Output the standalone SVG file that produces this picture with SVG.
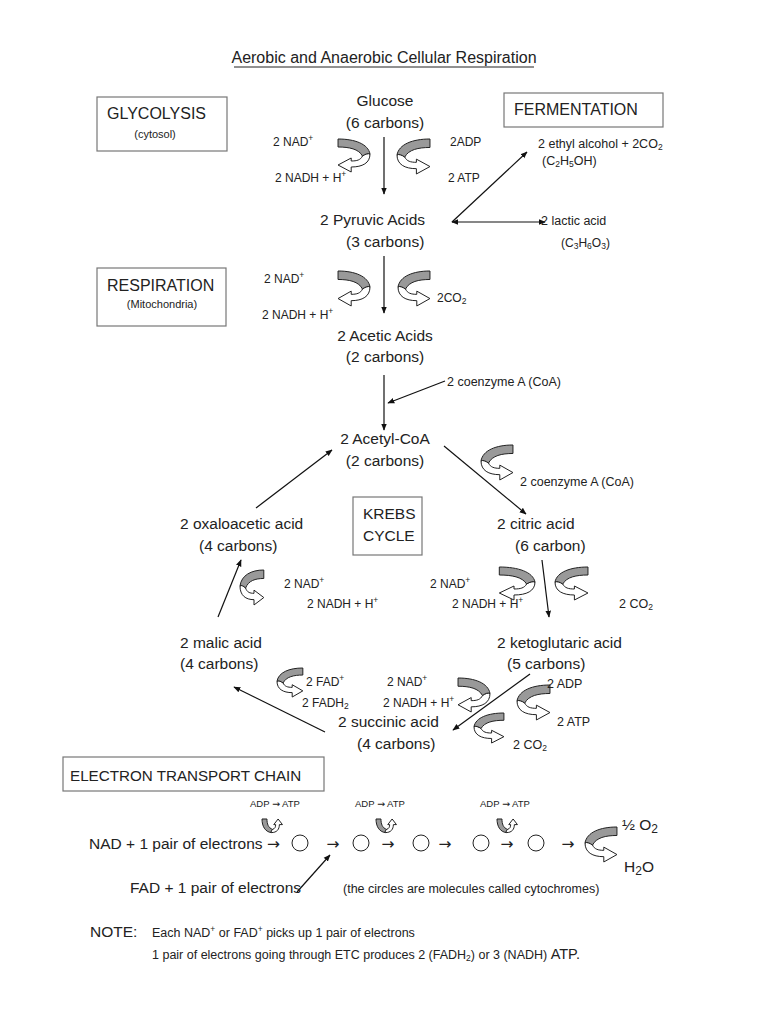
<svg xmlns="http://www.w3.org/2000/svg" xmlns:xlink="http://www.w3.org/1999/xlink" width="768" height="1024" viewBox="0 0 768 1024">
<style>
text{font-family:"Liberation Sans","DejaVu Sans",sans-serif;fill:#222}
.h{font-size:16px}
.ht{font-size:16px}
.m{font-size:15.5px}
.s{font-size:12px}
.xs{font-size:12.5px}
.xxs{font-size:9.5px}
.sp{font-size:8.5px}
.ar{font-family:"DejaVu Sans",sans-serif}
.box{fill:none;stroke:#777;stroke-width:1.2}
.ln{stroke:#111;stroke-width:1.2;fill:none}
.g{fill:#999;stroke:#222;stroke-width:1}
.w{fill:#fff;stroke:#222;stroke-width:1}
.cy{fill:#fff;stroke:#222;stroke-width:1}
</style>
<defs>
<marker id="ah" viewBox="0 0 10 10" refX="9" refY="5" markerWidth="7" markerHeight="7" orient="auto-start-reverse" markerUnits="userSpaceOnUse">
<path d="M0,1 L10,5 L0,9 Z" fill="#111"/>
</marker>
<g id="cr">
<path class="w" d="M0,15 C0,24 8,28 20,28 L20,33 L34,26 L20,19 L20,22 C14,22 10,21 8,17 C5,15 2,14 0,15 Z" vector-effect="non-scaling-stroke"/>
<path class="g" d="M34,0 L34,8 C22,8 12,10 8,17 C5,15 2,14 0,15 C2,5 16,0 34,0 Z" vector-effect="non-scaling-stroke"/>
</g>
</defs>
<rect width="768" height="1024" fill="#fff"/>

<g id="title">
<text class="ht" x="384" y="63" text-anchor="middle">Aerobic and Anaerobic Cellular Respiration</text>
<line x1="234" y1="67" x2="534" y2="67" stroke="#222" stroke-width="1"/>
</g>

<g id="glycolysis-box">
<rect class="box" x="97" y="97" width="130" height="54"/>
<text class="h" x="107" y="119">GLYCOLYSIS</text>
<text class="xs" x="155" y="138" text-anchor="middle" style="font-size:11px">(cytosol)</text>
</g>
<g id="respiration-box">
<rect class="box" x="97" y="268" width="129" height="58"/>
<text class="h" x="107" y="291">RESPIRATION</text>
<text class="xs" x="162" y="308" text-anchor="middle" style="font-size:11px">(Mitochondria)</text>
</g>
<g id="fermentation-box">
<rect class="box" x="504" y="93" width="159" height="34"/>
<text class="h" x="514" y="115">FERMENTATION</text>
</g>
<g id="krebs-box">
<rect class="box" x="353" y="497" width="69" height="58"/>
<text class="m" x="363" y="519">KREBS</text>
<text class="m" x="363" y="541">CYCLE</text>
</g>
<g id="etc-box">
<rect class="box" x="63" y="757" width="261" height="34"/>
<text x="70" y="781" style="font-size:15.2px">ELECTRON TRANSPORT CHAIN</text>
</g>

<g id="connectors">
<line class="ln" x1="384" y1="137" x2="384" y2="194" marker-end="url(#ah)"/>
<line class="ln" x1="384" y1="256" x2="384" y2="313" marker-end="url(#ah)"/>
<line class="ln" x1="384" y1="375" x2="384" y2="430" marker-end="url(#ah)"/>
<line class="ln" x1="445" y1="381" x2="388" y2="403" marker-end="url(#ah)"/>
<line class="ln" x1="452" y1="222" x2="527" y2="152" marker-end="url(#ah)"/>
<line class="ln" x1="452" y1="222" x2="545" y2="222" marker-start="url(#ah)" marker-end="url(#ah)"/>
<line class="ln" x1="444" y1="446" x2="526" y2="514" marker-end="url(#ah)"/>
<line class="ln" x1="256" y1="508" x2="332" y2="450" marker-end="url(#ah)"/>
<line class="ln" x1="542" y1="560" x2="549" y2="617" marker-end="url(#ah)"/>
<line class="ln" x1="218" y1="617" x2="241" y2="560" marker-end="url(#ah)"/>
<line class="ln" x1="530" y1="674" x2="453" y2="730" marker-end="url(#ah)"/>
<line class="ln" x1="325" y1="732" x2="234" y2="687" marker-end="url(#ah)"/>
<line class="ln" x1="297" y1="892" x2="330" y2="855" marker-end="url(#ah)"/>
</g>

<g id="curved-arrows">
<use xlink:href="#cr" href="#cr" transform="translate(370,139) scale(-0.94,1)"/>
<use xlink:href="#cr" href="#cr" transform="translate(397,139) scale(0.97,1.06)"/>
<use xlink:href="#cr" href="#cr" transform="translate(370,271) scale(-0.94,1.06)"/>
<use xlink:href="#cr" href="#cr" transform="translate(398,271) scale(0.94,1.06)"/>
<use xlink:href="#cr" href="#cr" transform="translate(481,445) scale(0.94,1.06)"/>
<use xlink:href="#cr" href="#cr" transform="translate(240,570) scale(0.7,1.06)"/>
<use xlink:href="#cr" href="#cr" transform="translate(277,668) scale(0.76,0.88)"/>
<use xlink:href="#cr" href="#cr" transform="translate(535,567) scale(-1.05,1)"/>
<use xlink:href="#cr" href="#cr" transform="translate(555,567) scale(0.97,1)"/>
<use xlink:href="#cr" href="#cr" transform="translate(490,678) scale(-0.94,1.03)"/>
<use xlink:href="#cr" href="#cr" transform="translate(517,685) scale(0.97,1.06)"/>
<use xlink:href="#cr" href="#cr" transform="translate(474,713) scale(0.88,0.91)"/>
<use xlink:href="#cr" href="#cr" transform="translate(585,827) scale(0.94,1.06)"/>
<use xlink:href="#cr" href="#cr" transform="translate(262,819) scale(0.62,0.4) translate(0,34) rotate(-90)"/>
<use xlink:href="#cr" href="#cr" transform="translate(376,819) scale(0.62,0.4) translate(0,34) rotate(-90)"/>
<use xlink:href="#cr" href="#cr" transform="translate(497,819) scale(0.62,0.4) translate(0,34) rotate(-90)"/>
</g>

<g id="glucose"><text class="m" x="385" y="106" text-anchor="middle">Glucose</text><text class="m" x="385" y="128" text-anchor="middle">(6 carbons)</text></g>
<g id="glyco-labels">
<text class="s" x="273" y="146">2 NAD<tspan class="sp" baseline-shift="super">+</tspan></text>
<text class="s" x="275" y="182">2 NADH + H<tspan class="sp" baseline-shift="super">+</tspan></text>
<text class="s" x="450" y="146">2ADP</text>
<text class="s" x="448" y="182">2 ATP</text>
</g>
<g id="ethyl">
<text class="xs" x="538" y="148">2 ethyl alcohol + 2CO<tspan class="sp" baseline-shift="-2">2</tspan></text>
<text class="xs" x="542" y="165">(C<tspan class="sp" baseline-shift="-2">2</tspan>H<tspan class="sp" baseline-shift="-2">5</tspan>OH)</text>
</g>
<g id="pyruvic"><text class="m" x="320" y="225">2 Pyruvic Acids</text><text class="m" x="346" y="247">(3 carbons)</text></g>
<g id="lactic">
<text class="xs" x="541" y="225">2 lactic acid</text>
<text class="s" x="561" y="247">(C<tspan class="sp" baseline-shift="-2">3</tspan>H<tspan class="sp" baseline-shift="-2">6</tspan>O<tspan class="sp" baseline-shift="-2">3</tspan>)</text>
</g>
<g id="resp-labels">
<text class="s" x="264" y="283">2 NAD<tspan class="sp" baseline-shift="super">+</tspan></text>
<text class="s" x="262" y="319">2 NADH + H<tspan class="sp" baseline-shift="super">+</tspan></text>
<text class="s" x="437" y="302">2CO<tspan class="sp" baseline-shift="-2">2</tspan></text>
</g>
<g id="acetic"><text class="m" x="385" y="341" text-anchor="middle">2 Acetic Acids</text><text class="m" x="385" y="362" text-anchor="middle">(2 carbons)</text></g>
<g id="coa-in"><text class="xs" x="447" y="386">2 coenzyme A (CoA)</text></g>
<g id="acetylcoa"><text class="m" x="385" y="444" text-anchor="middle">2 Acetyl-CoA</text><text class="m" x="385" y="466" text-anchor="middle">(2 carbons)</text></g>
<g id="coa-out"><text class="xs" x="520" y="486">2 coenzyme A (CoA)</text></g>
<g id="oxaloacetic"><text class="m" x="180" y="529">2 oxaloacetic acid</text><text class="m" x="199" y="551">(4 carbons)</text></g>
<g id="citric"><text class="m" x="497" y="529">2 citric acid</text><text class="m" x="515" y="551">(6 carbon)</text></g>
<g id="krebs-labels">
<text class="s" x="284" y="588">2 NAD<tspan class="sp" baseline-shift="super">+</tspan></text>
<text class="s" x="307" y="608">2 NADH + H<tspan class="sp" baseline-shift="super">+</tspan></text>
<text class="s" x="430" y="588">2 NAD<tspan class="sp" baseline-shift="super">+</tspan></text>
<text class="s" x="452" y="608">2 NADH + H<tspan class="sp" baseline-shift="super">+</tspan></text>
<text class="xs" x="619" y="608">2 CO<tspan class="sp" baseline-shift="-2">2</tspan></text>
<text class="s" x="306" y="686">2 FAD<tspan class="sp" baseline-shift="super">+</tspan></text>
<text class="s" x="302" y="707">2 FADH<tspan class="sp" baseline-shift="-2">2</tspan></text>
<text class="s" x="387" y="686">2 NAD<tspan class="sp" baseline-shift="super">+</tspan></text>
<text class="s" x="383" y="707">2 NADH + H<tspan class="sp" baseline-shift="super">+</tspan></text>
<text class="xs" x="547" y="688">2 ADP</text>
<text class="xs" x="557" y="726">2 ATP</text>
<text class="xs" x="513" y="749">2 CO<tspan class="sp" baseline-shift="-2">2</tspan></text>
</g>
<g id="ketoglutaric"><text class="m" x="497" y="648">2 ketoglutaric acid</text><text class="m" x="507" y="669">(5 carbons)</text></g>
<g id="malic"><text class="m" x="180" y="648">2 malic acid</text><text class="m" x="180" y="669">(4 carbons)</text></g>
<g id="succinic"><text class="m" x="338" y="727">2 succinic acid</text><text class="m" x="357" y="749">(4 carbons)</text></g>

<g id="etc">
<text class="xxs" x="250" y="807">ADP <tspan class="ar">→</tspan> ATP</text>
<text class="xxs" x="355" y="807">ADP <tspan class="ar">→</tspan> ATP</text>
<text class="xxs" x="480" y="807">ADP <tspan class="ar">→</tspan> ATP</text>
<text class="m" x="89" y="849">NAD + 1 pair of electrons <tspan class="ar">→</tspan></text>
<circle class="cy" cx="300" cy="843" r="8"/>
<circle class="cy" cx="361" cy="843" r="8"/>
<circle class="cy" cx="421" cy="843" r="8"/>
<circle class="cy" cx="481" cy="843" r="8"/>
<circle class="cy" cx="536" cy="843" r="8"/>
<text class="m ar" x="333" y="849" text-anchor="middle">→</text>
<text class="m ar" x="388" y="849" text-anchor="middle">→</text>
<text class="m ar" x="445" y="849" text-anchor="middle">→</text>
<text class="m ar" x="507" y="849" text-anchor="middle">→</text>
<text class="m ar" x="568" y="849" text-anchor="middle">→</text>
<text class="m" x="622" y="830">½ O<tspan class="s" baseline-shift="-3">2</tspan></text>
<text class="m" x="624" y="872">H<tspan class="s" baseline-shift="-3">2</tspan>O</text>
<text class="m" x="130" y="893">FAD + 1 pair of electrons</text>
<text class="xs" x="343" y="893">(the circles are molecules called cytochromes)</text>
</g>

<g id="note">
<text class="m" x="90" y="937">NOTE:</text>
<text class="xs" x="152" y="937">Each NAD<tspan class="sp" baseline-shift="super">+</tspan> or FAD<tspan class="sp" baseline-shift="super">+</tspan>  picks up 1 pair of electrons</text>
<text class="xs" x="152" y="959">1 pair of electrons going through ETC produces 2 (FADH<tspan class="sp" baseline-shift="-2">2</tspan>) or 3 (NADH) <tspan style="font-size:14.5px">ATP.</tspan></text>
</g>
</svg>
